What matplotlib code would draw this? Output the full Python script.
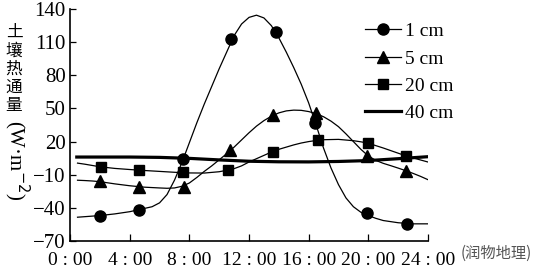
import matplotlib.pyplot as plt

plt.rcParams['font.family'] = ['Liberation Serif', 'Noto Sans CJK SC']

# marker positions (hour, W/m2)
hours_1 = [2.0, 4.6, 7.6, 10.8, 13.8, 16.4, 19.9, 22.6]
vals_1 = [-47, -42, 4, 113, 119, 37, -45, -54.5]
hours_5 = [2.0, 4.6, 7.65, 10.7, 13.6, 16.5, 19.9, 22.5]
vals_5 = [-16, -21.5, -21.5, 12, 44, 46, 7, -6.5]
hours_20 = [2.05, 4.6, 7.6, 10.6, 13.6, 16.6, 20.0, 22.5]
vals_20 = [-3, -5.5, -7.5, -6, 11, 21, 18.7, 7.2]

# smooth fitted curves
curve_h_1 = [0.5, 2.0, 3.0, 4.0, 5.0, 5.5, 6.0, 6.5, 7.0, 7.5, 8.0, 8.5, 9.0, 9.5,
             10.0, 10.5, 11.0, 11.5, 12.0, 12.5, 13.0, 13.5, 14.0, 14.5, 15.0,
             15.5, 16.0, 16.5, 17.0, 17.5, 18.0, 18.5, 19.0, 19.5, 20.0, 20.5,
             21.0, 22.0, 23.0, 24.0]
curve_v_1 = [-48.5, -47, -45.5, -43.5, -40.5, -39, -35.5, -28, -15, 1, 19, 37, 54, 70,
             86, 101, 116, 126.5, 132.5, 134.5, 132, 125, 114, 101, 87,
             72, 55, 35, 14, -4, -19, -31, -39, -44, -47, -49.5,
             -51.5, -53.5, -54.5, -54.5]
curve_h_5 = [0.5, 1.0, 1.5, 2.0, 3.0, 4.0, 5.0, 6.0, 6.5, 7.0, 7.5, 8.0, 8.5, 9.0,
             9.5, 10.0, 10.5, 11.0, 11.5, 12.0, 12.5, 13.0, 13.5, 14.0, 14.5, 15.0,
             15.5, 16.0, 16.5, 17.0, 17.5, 18.0, 18.5, 19.0, 19.5, 20.0, 20.5, 21.0,
             21.5, 22.0, 22.5, 23.0, 23.5, 24.0]
curve_v_5 = [-15, -15.3, -15.7, -16.3, -18.3, -20, -21.3, -22, -22.3, -22, -20.5, -17.5,
             -12.5, -7, -2, 3.5, 9, 15, 21.5, 28, 34, 39, 43, 46, 47.8, 48.5,
             48.3, 47.2, 45.3, 42.5, 38.5, 33.5, 27, 20, 13, 7, 3, 0.3,
             -1.8, -4, -6.3, -8.8, -11.5, -14.5]
curve_h_20 = [0.5, 1.0, 2.0, 3.0, 4.0, 5.0, 6.0, 7.0, 8.0, 9.0, 10.0, 10.5, 11.0, 11.5,
              12.0, 12.5, 13.0, 13.5, 14.0, 14.5, 15.0, 15.5, 16.0, 16.5, 17.0, 18.0,
              19.0, 19.5, 20.0, 21.0, 22.0, 22.5, 23.0, 24.0]
curve_v_20 = [0.5, -0.5, -2.8, -4.3, -5.3, -6.2, -7, -7.8, -8.4, -8.5, -7.3, -6, -4.5, -2,
              1.5, 4.5, 7.5, 10.5, 13, 15, 17, 18.7, 20, 21, 21.7, 22,
              20.8, 19.8, 18.5, 14.2, 9.5, 7.2, 5.2, 1.5]
curve_h_40 = [0.45, 4.0, 6.0, 8.0, 10.0, 12.0, 14.0, 16.0, 18.0, 20.0, 22.0, 24.2]
curve_v_40 = [6, 6, 5.7, 4.8, 3.4, 2.2, 1.7, 1.6, 2, 2.8, 4.5, 6.5]

xticks = [0, 4, 8, 12, 16, 20, 24]
xlabels = ['0 : 00', '4 : 00', '8 : 00', '12 : 00', '16 : 00', '20 : 00', '24 : 00']
yticks = [-70, -40, -10, 20, 50, 80, 110, 140]
ylabels = ['\u221270', '\u221240', '\u221210', '20', '50', '80', '110', '140']

fig = plt.figure(figsize=(5.39, 2.76), dpi=100)
ax = fig.add_axes([0.130, 0.127, 0.664, 0.840])

ax.plot(curve_h_1, curve_v_1, color='black', lw=0.9)
ax.plot(curve_h_5, curve_v_5, color='black', lw=0.9)
ax.plot(curve_h_20, curve_v_20, color='black', lw=0.9)
ax.plot(curve_h_40, curve_v_40, color='black', lw=2.3)
ax.plot(hours_1, vals_1, 'o', color='black', ms=8)
ax.plot(hours_5, vals_5, '^', color='black', ms=9)
ax.plot(hours_20, vals_20, 's', color='black', ms=7.5)

# legend handles
h1, = ax.plot([], [], '-o', color='black', lw=0.9, ms=8)
h2, = ax.plot([], [], '-^', color='black', lw=0.9, ms=9)
h3, = ax.plot([], [], '-s', color='black', lw=0.9, ms=7.5)
h4, = ax.plot([], [], '-', color='black', lw=2.3)
fig.legend([h1, h2, h3, h4], ['1 cm', '5 cm', '20 cm', '40 cm'],
           loc='upper left', bbox_to_anchor=(0.677, 0.918), frameon=False,
           fontsize=14, handlelength=1.85, handletextpad=0.2,
           labelspacing=0.5, borderpad=0, borderaxespad=0)

ax.set_xlim(0, 24)
ax.set_ylim(-70, 140)
ax.set_xticks(xticks)
ax.set_xticklabels(xlabels, fontsize=14)
ax.set_yticks(yticks)
ax.set_yticklabels(ylabels, fontsize=15)
ax.tick_params(axis='x', direction='in', length=5, width=0.9, pad=8)
ax.tick_params(axis='y', direction='in', length=4, width=0.9, pad=3)
for s in ['top', 'right']:
    ax.spines[s].set_visible(False)
for s in ['left', 'bottom']:
    ax.spines[s].set_linewidth(1.2)

# y label: stacked Chinese characters then rotated unit
fig.text(0.026, 0.75, '土\n壤\n热\n通\n量', family='Noto Sans CJK SC', fontsize=12,
         ha='center', va='center', linespacing=1.1)
fig.text(0.03, 0.42, '(W\u00b7m$^{-2}$)', fontsize=15, rotation=-90,
         ha='center', va='center')

# watermark
fig.text(0.92, 0.083, '(润物地理)', family='Noto Sans CJK SC', fontsize=11,
         color='#555555', ha='center', va='center')

plt.savefig('out.png', dpi=100)
